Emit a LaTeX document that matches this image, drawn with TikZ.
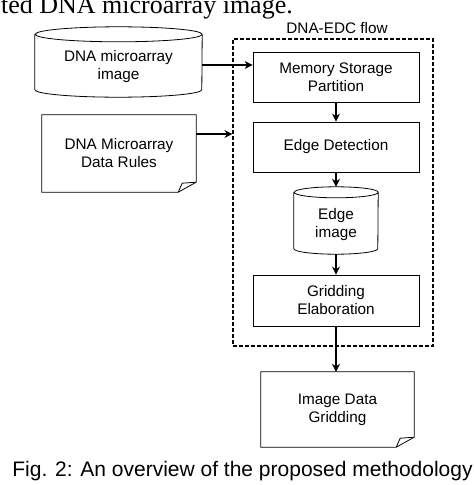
\documentclass[tikz,border=0pt]{standalone}
\usepackage{fontspec}
\setmainfont{Liberation Sans}
\newfontfamily\timesfont{Liberation Serif}
\usetikzlibrary{arrows.meta}

\tikzset{
  flowbox/.style={draw, line width=0.8pt, minimum width=166pt, minimum height=50pt,
    align=center, font=\fontsize{15.3}{18}\selectfont},
  sheet/.style={minimum width=154pt, minimum height=77pt, align=center,
    font=\fontsize{15.3}{18}\selectfont},
  drum/.style={minimum width=167pt, minimum height=70pt,
    font=\fontsize{15.3}{18}\selectfont},
  flowarrow/.style={-{Stealth[length=8pt,width=8pt]}, line width=1.2pt},
}

% two lines of text sitting a little low in a cylinder
\newcommand{\drumtext}[2]{\raisebox{-8pt}[0pt][0pt]{\begin{tabular}{@{}c@{}}#1\\#2\end{tabular}}}

% document outline with folded corner
\newcommand{\docsheet}[1]{%
  \draw[line width=0.8pt] (#1.north west) -- (#1.north east) -- ([yshift=10pt]#1.south east)
    -- ([xshift=-18pt]#1.south east) -- (#1.south west) -- cycle;
  \draw[line width=0.8pt] ([xshift=-18pt]#1.south east) -- ([xshift=-14pt,yshift=9pt]#1.south east)
    -- ([yshift=10pt]#1.south east);}

% cylinder outline: node, x radius, y radius
\newcommand{\drumshape}[3]{%
  \draw[line width=0.8pt] ([yshift=-#3]#1.north west) -- ([yshift=#3]#1.south west)
    arc[start angle=180, end angle=360, x radius=#2, y radius=#3]
    -- ([yshift=-#3]#1.north east)
    arc[start angle=0, end angle=360, x radius=#2, y radius=#3];}

\begin{document}
\begin{tikzpicture}[x=1pt, y=-1pt]
  \useasboundingbox (0,0) rectangle (474,485);

  % text of the page around the figure
  \node[anchor=base east, inner sep=0pt, font=\timesfont\fontsize{26}{30}\selectfont] (prevline) at (293,13) {ted DNA microarray image.};
  \node[anchor=base, inner sep=0pt, font=\fontsize{21}{24}\selectfont] (caption) at (242.5,476) {Fig. 2: An overview of the proposed methodology};

  % dashed frame of the flow
  \node[draw, dashed, dash pattern=on 4pt off 2pt, line width=1.2pt, minimum width=200pt, minimum height=307pt] (edc) at (333,192.5) {};
  \node[font=\fontsize{15.3}{18}\selectfont] (edclabel) at (337,28) {DNA-EDC flow};

  % inputs
  \node[drum] (dbimg) at (118.5,62) {\drumtext{DNA microarray}{image}};
  \drumshape{dbimg}{83.5pt}{7.5pt}
  \node[sheet] (rules) at (119,153.5) {DNA Microarray\\Data Rules};
  \docsheet{rules}

  % flow steps
  \node[flowbox] (msp) at (336,77) {Memory Storage\\Partition};
  \node[flowbox] (edge) at (336,147) {Edge Detection};
  \node[drum, minimum width=84pt, minimum height=67pt] (edgeimg) at (336,220.5) {\drumtext{Edge}{image}};
  \drumshape{edgeimg}{42pt}{5.5pt}
  \node[flowbox, minimum height=51pt] (grid) at (336,300.5) {Gridding\\Elaboration};

  % output
  \node[sheet, minimum width=153pt, minimum height=75pt] (idg) at (337.5,409.5) {Image Data\\Gridding};
  \docsheet{idg}

  % connectors
  \draw[flowarrow] ([yshift=-3pt]dbimg.east) -- ([yshift=-3pt]dbimg.east -| msp.west);
  \draw[flowarrow] ([yshift=19.5pt]rules.east) -- ([yshift=19.5pt]rules.east -| edc.west);
  \draw[flowarrow] (msp.south) -- (edge.north);
  \draw[flowarrow] (edge.south) -- (edgeimg.north);
  \draw[flowarrow] (edgeimg.south) -- (grid.north);
  \draw[flowarrow] (grid.south) -- (grid.south |- idg.north);
\end{tikzpicture}
\end{document}
